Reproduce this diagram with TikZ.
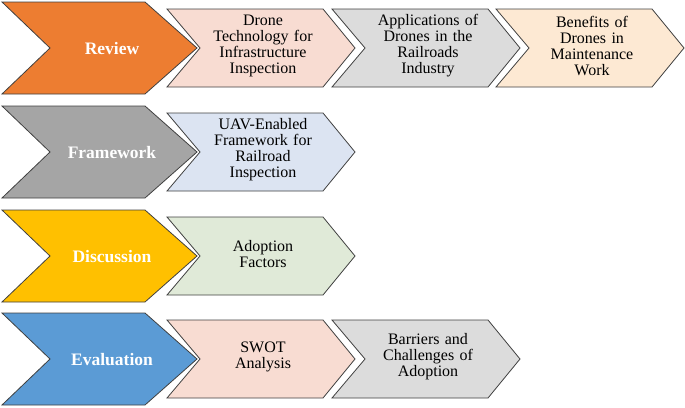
\documentclass[tikz,border=0pt]{standalone}
\usepackage{fontspec}
\setmainfont{Liberation Serif}
\begin{document}
\begin{tikzpicture}[x=1pt,y=-1pt,
  chev/.style={draw=black!75,line width=0.8pt,line join=miter},
  bigtxt/.style={text=white,font=\bfseries\fontsize{17.5}{19}\selectfont},
  smalltxt/.style={align=center,font=\fontsize{16}{16}\selectfont,text width=160pt}]
\useasboundingbox (0,0) rectangle (685,407);
\newcommand{\bigchev}[4]{%
  \draw[chev,fill=#2] (2,#1) -- (145,#1) -- (197,#1+46) -- (145,#1+92) -- (2,#1+92) -- (50,#1+46) -- cycle;
  \node[bigtxt] (#3) at (112,#1+47) {#4};}
\newcommand{\smallchev}[5]{%
  \draw[chev,fill=#3] (#1,#2+7) -- (#1+156,#2+7) -- (#1+188,#2+46) -- (#1+156,#2+85) -- (#1,#2+85) -- (#1+33,#2+46) -- cycle;
  \node[smalltxt] (#4) at (#1+96,#2+44) {#5};}
\definecolor{cOr}{HTML}{ED7D31}\definecolor{cGr}{HTML}{A5A5A5}
\definecolor{cGo}{HTML}{FFC000}\definecolor{cBl}{HTML}{5B9BD5}
\definecolor{sPk}{HTML}{F8DCD2}\definecolor{sGr}{HTML}{DCDCDC}
\definecolor{sOr}{HTML}{FDE9D3}\definecolor{sBl}{HTML}{DCE4F2}
\definecolor{sGn}{HTML}{E0EAD8}
\bigchev{2}{cOr}{review}{Review}
\smallchev{167}{2}{sPk}{s11}{Drone\\Technology for\\Infrastructure\\Inspection}
\smallchev{332}{2}{sGr}{s12}{Applications of\\Drones in the\\Railroads\\Industry}
\smallchev{496}{2}{sOr}{s13}{Benefits of\\Drones in\\Maintenance\\Work}
\bigchev{106}{cGr}{framework}{Framework}
\smallchev{167}{106}{sBl}{s21}{UAV-Enabled\\Framework for\\Railroad\\Inspection}
\bigchev{210}{cGo}{discussion}{Discussion}
\smallchev{167}{210}{sGn}{s31}{Adoption\\Factors}
\bigchev{313}{cBl}{evaluation}{Evaluation}
\smallchev{167}{313}{sPk}{s41}{SWOT\\Analysis}
\smallchev{332}{313}{sGr}{s42}{Barriers and\\Challenges of\\Adoption}
\end{tikzpicture}
\end{document}
